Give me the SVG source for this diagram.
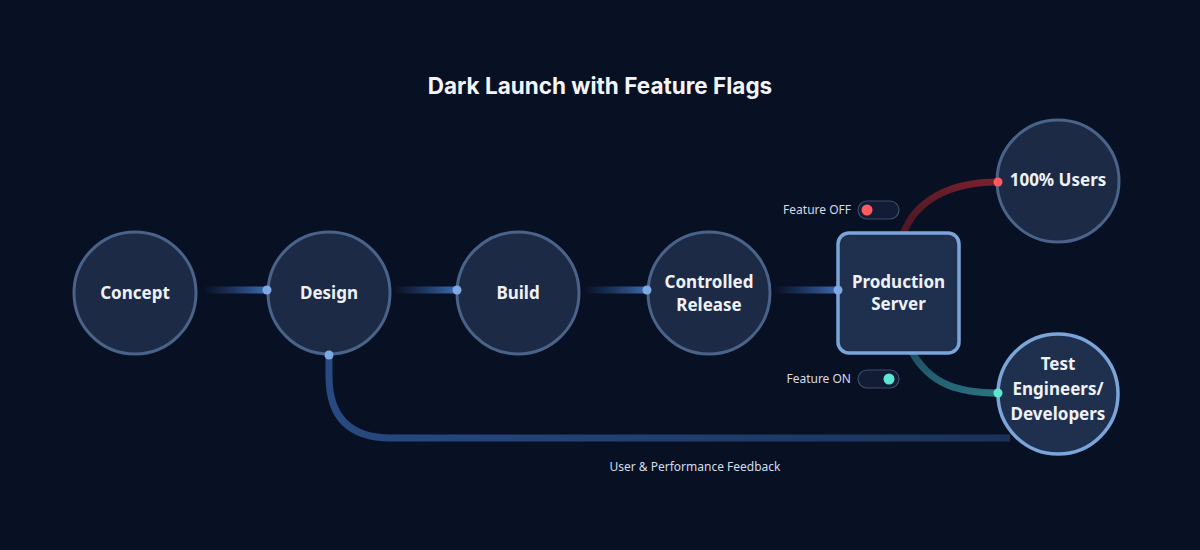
<svg xmlns="http://www.w3.org/2000/svg" width="1200" height="550" viewBox="0 0 1200 550">
  <defs>
    <style>
      .title { font-family: Inter, "Noto Sans", sans-serif; font-weight: 700; font-size: 22.5px; fill: #f2f5fa; }
      .lbl { font-family: "Noto Sans", "Open Sans", sans-serif; font-weight: 700; font-size: 17px; fill: #eef2f8; text-anchor: middle; }
      .small { font-family: "Noto Sans", "Open Sans", sans-serif; font-size: 12px; fill: #d5dce8; }
      .node { fill: #1c2a45; stroke: #4a6389; stroke-width: 3; }
      .nodeHi { fill: #1f304f; stroke: #7ba4d9; stroke-width: 3.5; }
      .flow { fill: url(#flowGrad); }
      .dot { fill: #7fa9e4; }
      .pill { fill: #121d35; stroke: #3d4d6b; stroke-width: 1.2; }
    </style>
    <linearGradient id="flowGrad" x1="0" y1="0" x2="1" y2="0">
      <stop offset="0" stop-color="#2e5490" stop-opacity="0"/>
      <stop offset="1" stop-color="#3d6bb0"/>
    </linearGradient>
    <linearGradient id="redGrad" x1="0" y1="1" x2="1" y2="0">
      <stop offset="0" stop-color="#4a1724"/>
      <stop offset="1" stop-color="#7a202c"/>
    </linearGradient>
    <linearGradient id="tealGrad" x1="0" y1="0" x2="1" y2="1">
      <stop offset="0" stop-color="#1e5064"/>
      <stop offset="1" stop-color="#2a7280"/>
    </linearGradient>
    <linearGradient id="fbGrad" x1="0" y1="0" x2="1" y2="0">
      <stop offset="0" stop-color="#274a80"/>
      <stop offset="1" stop-color="#1a3259"/>
    </linearGradient>
  </defs>

  <rect width="1200" height="550" fill="#081024"/>

  <text class="title" x="600" y="94" text-anchor="middle">Dark Launch with Feature Flags</text>

  <g id="connectors">
    <rect class="flow" x="203" y="286.5" width="64" height="7" rx="3.5"/>
    <rect class="flow" x="393" y="286.5" width="64" height="7" rx="3.5"/>
    <rect class="flow" x="583" y="286.5" width="65" height="7" rx="3.5"/>
    <rect class="flow" x="773" y="286.5" width="65" height="7" rx="3.5"/>
    <path d="M903,234 C916,200 950,182 998,182" fill="none" stroke="url(#redGrad)" stroke-width="7"/>
    <path d="M912,352 C930,384 958,393 998,393" fill="none" stroke="url(#tealGrad)" stroke-width="7"/>
    <path d="M329,355 L329,376 Q329,438 391,438 L1010,438" fill="none" stroke="url(#fbGrad)" stroke-width="7"/>
    <text class="small" x="695" y="471" text-anchor="middle">User &amp; Performance Feedback</text>
  </g>

  <g id="concept">
    <circle class="node" cx="135" cy="293" r="61"/>
    <text class="lbl" x="135" y="299">Concept</text>
  </g>
  <g id="design">
    <circle class="node" cx="329" cy="293" r="61"/>
    <text class="lbl" x="329" y="299">Design</text>
  </g>
  <g id="build">
    <circle class="node" cx="518" cy="293" r="61"/>
    <text class="lbl" x="518" y="299">Build</text>
  </g>
  <g id="controlled-release">
    <circle class="node" cx="709" cy="293" r="61"/>
    <text class="lbl" x="709" y="288">Controlled</text>
    <text class="lbl" x="709" y="311">Release</text>
  </g>
  <g id="production-server">
    <rect class="nodeHi" x="838" y="233" width="121" height="120" rx="11"/>
    <text class="lbl" x="898.5" y="288">Production</text>
    <text class="lbl" x="898.5" y="310">Server</text>
  </g>
  <g id="users">
    <circle class="node" cx="1058" cy="181" r="61"/>
    <text class="lbl" x="1058" y="186">100% Users</text>
  </g>
  <g id="test-engineers">
    <circle class="nodeHi" cx="1058" cy="394" r="60"/>
    <text class="lbl" x="1058" y="370">Test</text>
    <text class="lbl" x="1058" y="395">Engineers/</text>
    <text class="lbl" x="1058" y="420">Developers</text>
  </g>

  <g id="dots">
    <circle class="dot" cx="267" cy="290" r="4.5"/>
    <circle class="dot" cx="457" cy="290" r="4.5"/>
    <circle class="dot" cx="647" cy="290" r="4.5"/>
    <circle class="dot" cx="838" cy="290" r="4.5"/>
    <circle class="dot" cx="329" cy="355" r="4.5"/>
    <circle cx="998" cy="182" r="4.5" fill="#ff5a5f"/>
    <circle cx="998" cy="393" r="4.5" fill="#5ee6d4"/>
  </g>

  <g id="toggle-off">
    <text class="small" x="851" y="214" text-anchor="end">Feature OFF</text>
    <rect class="pill" x="858" y="201" width="41" height="18" rx="9"/>
    <circle cx="867" cy="210" r="5.5" fill="#ff5a5f"/>
  </g>
  <g id="toggle-on">
    <text class="small" x="851" y="383" text-anchor="end">Feature ON</text>
    <rect class="pill" x="858" y="370" width="41" height="18" rx="9"/>
    <circle cx="889" cy="379" r="5.5" fill="#5ee6d4"/>
  </g>
</svg>
